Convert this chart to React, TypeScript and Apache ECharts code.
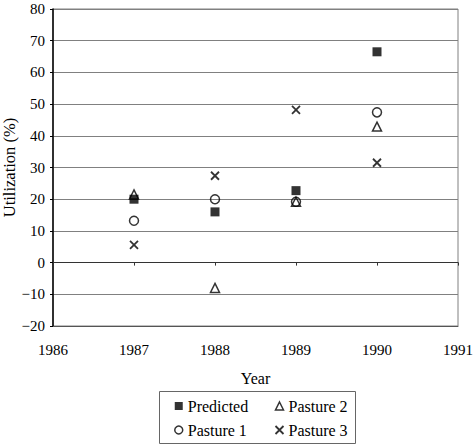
import { useRef, useEffect } from "react";
import * as echarts from "echarts";

// data
const years = [1987, 1988, 1989, 1990];
const predicted = [20, 16, 22.7, 66.5];
const pasture1 = [13.2, 20, 19.2, 47.4];
const pasture2 = [21.5, -8, 19.2, 42.9];
const pasture3 = [5.6, 27.4, 48.2, 31.5];

const FONT = "'Liberation Serif', 'Times New Roman', serif";
const CROSS = "path://M0,0L10,10M10,0L0,10";

const pts = (vals: number[]) => vals.map((v, i) => [years[i], v]);

const seriesStyle: Record<string, any> = {
  Predicted: { symbol: "rect", size: 9, style: { color: "#000" } },
  "Pasture 1": {
    symbol: "circle",
    size: 9,
    style: { color: "rgba(0,0,0,0)", borderColor: "#000", borderWidth: 1.5 },
  },
  "Pasture 2": {
    symbol: "triangle",
    size: 9,
    style: { color: "rgba(0,0,0,0)", borderColor: "#000", borderWidth: 1.5 },
  },
  "Pasture 3": {
    symbol: CROSS,
    size: 8,
    style: { color: "none", borderColor: "#000", borderWidth: 1.8 },
  },
};

const legendItem = (name: string) => ({
  name,
  icon: seriesStyle[name].symbol,
  itemStyle: seriesStyle[name].style,
  textStyle: { fontFamily: FONT, fontSize: 16, color: "#000" },
});

const App = () => {
  const chartRef = useRef<HTMLDivElement>(null);

  useEffect(() => {
    const myChart = echarts.init(chartRef.current, null, { renderer: "svg" });

    const mkSeries = (name: string, vals: number[]) => ({
      name,
      type: "scatter",
      xAxisIndex: 0,
      symbol: seriesStyle[name].symbol,
      symbolSize: seriesStyle[name].size,
      itemStyle: seriesStyle[name].style,
      data: pts(vals),
    });

    const legendBase = {
      orient: "vertical",
      padding: 0,
      itemWidth: 8,
      itemHeight: 8,
      itemGap: 8,
      textStyle: { fontFamily: FONT, fontSize: 16, color: "#000" },
    };

    myChart.setOption({
      animation: false,
      textStyle: { fontFamily: FONT, color: "#000" },
      grid: {
        left: 53,
        right: 16,
        top: 9,
        bottom: 120,
        outerBoundsMode: "none",
        containLabel: false,
        show: true,
        borderColor: "#808080",
        borderWidth: 1,
      },
      xAxis: [
        {
          type: "value",
          min: 1986,
          max: 1991,
          interval: 1,
          name: "Year",
          nameLocation: "middle",
          nameGap: 44,
          nameMoveOverlap: false,
          nameTextStyle: { fontFamily: FONT, fontSize: 16, color: "#000" },
          axisLine: { show: true, onZero: false, lineStyle: { color: "#555" } },
          axisTick: { show: false },
          axisLabel: {
            margin: 16,
            fontFamily: FONT,
            fontSize: 15,
            color: "#000",
            formatter: (v: number) => String(v),
          },
          splitLine: { show: false },
        },
        {
          type: "value",
          min: 1986,
          max: 1991,
          interval: 1,
          position: "bottom",
          axisLine: { show: true, onZero: true, lineStyle: { color: "#333" } },
          axisTick: { show: true, length: 3, lineStyle: { color: "#333" } },
          axisLabel: { show: false },
          splitLine: { show: false },
        },
      ],
      yAxis: {
        type: "value",
        min: -20,
        max: 80,
        interval: 10,
        name: "Utilization (%)",
        nameLocation: "middle",
        nameGap: 35,
        nameMoveOverlap: false,
        nameTextStyle: { fontFamily: FONT, fontSize: 16.5, color: "#000" },
        axisLine: { show: true, lineStyle: { color: "#000", width: 1.5 } },
        axisTick: { show: true, length: 3, lineStyle: { color: "#000" } },
        axisLabel: {
          margin: 8,
          fontFamily: FONT,
          fontSize: 15,
          color: "#000",
          formatter: (v: number) => (v < 0 ? "\u2212" + Math.abs(v) : String(v)),
        },
        splitLine: { show: true, lineStyle: { color: "#808080", width: 1 } },
      },
      legend: [
        {
          ...legendBase,
          left: 174,
          top: 398,
          data: [legendItem("Predicted"), legendItem("Pasture 1")],
        },
        {
          ...legendBase,
          left: 273,
          top: 398,
          data: [legendItem("Pasture 2"), legendItem("Pasture 3")],
        },
      ],
      graphic: [
        {
          type: "rect",
          shape: { x: 159.5, y: 391.5, width: 196, height: 52 },
          style: { fill: "none", stroke: "#666", lineWidth: 1 },
          silent: true,
        },
      ],
      series: [
        mkSeries("Predicted", predicted),
        mkSeries("Pasture 1", pasture1),
        mkSeries("Pasture 2", pasture2),
        mkSeries("Pasture 3", pasture3),
      ],
    });

    return () => {
      myChart.dispose();
    };
  }, []);

  return (
    <div
      ref={chartRef}
      style={{ position: "fixed", left: 0, top: 0, width: "474px", height: "446px", background: "#fff" }}
    ></div>
  );
};

export default App;
